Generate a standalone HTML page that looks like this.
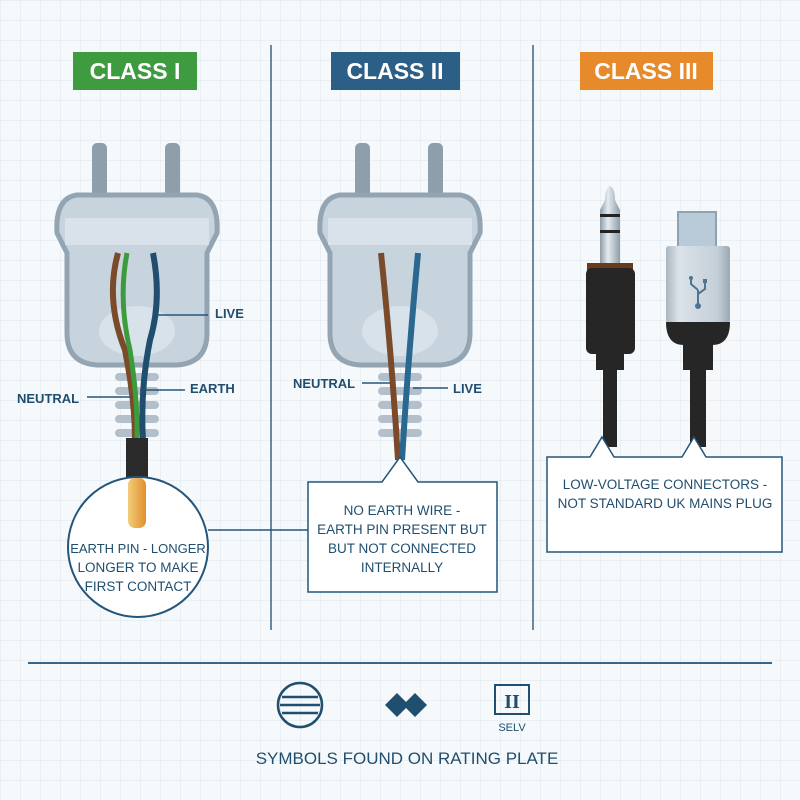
<!DOCTYPE html>
<html><head><meta charset="utf-8"><style>body{margin:0}svg{display:block}</style></head><body>
<svg width="800" height="800" viewBox="0 0 800 800" xmlns="http://www.w3.org/2000/svg" font-family="Liberation Sans, sans-serif">
<defs>
<pattern id="g" width="20" height="20" patternUnits="userSpaceOnUse"><path d="M20 0H0V20" fill="none" stroke="#dde5eb" stroke-width="1"/></pattern>
<linearGradient id="met" x1="0" x2="1"><stop offset="0" stop-color="#8e9ca8"/><stop offset=".4" stop-color="#e4ebf0"/><stop offset="1" stop-color="#8e9ca8"/></linearGradient>
<linearGradient id="usb" x1="0" x2="1"><stop offset="0" stop-color="#a9b6c1"/><stop offset=".2" stop-color="#dce3e9"/><stop offset=".8" stop-color="#c4cfd8"/><stop offset="1" stop-color="#9aa8b4"/></linearGradient>
<linearGradient id="gold" x1="0" x2="1"><stop offset="0" stop-color="#f2cd7a"/><stop offset="1" stop-color="#e0902e"/></linearGradient>
<g id="plug">
<rect x="-45" y="-110" width="15" height="85" rx="5" fill="#8e9eab"/>
<rect x="28" y="-110" width="15" height="85" rx="5" fill="#8e9eab"/>
<path d="M-80 -20 Q-82 -55 -60 -58 L60 -58 Q82 -55 80 -20 L70 0 L70 80 Q70 110 40 112 L-40 112 Q-70 110 -70 80 L-70 0 Z" fill="#c7d4de" stroke="#93a4b2" stroke-width="5"/>
<path d="M-72 -35 L72 -35 L72 -8 L-72 -8 Z" fill="#d9e2ea"/>
<ellipse cx="0" cy="78" rx="38" ry="25" fill="#d8e2ea"/>
<g fill="#b3c0cb"><rect x="-22" y="120" width="44" height="8" rx="4"/><rect x="-22" y="134" width="44" height="8" rx="4"/><rect x="-22" y="148" width="44" height="8" rx="4"/><rect x="-22" y="162" width="44" height="8" rx="4"/><rect x="-22" y="176" width="44" height="8" rx="4"/></g>
</g>
</defs>
<rect width="800" height="800" fill="#f6f9fb"/>
<rect width="800" height="800" fill="url(#g)"/>
<g stroke="#3a6485" stroke-width="1.5"><line x1="271" y1="45" x2="271" y2="630"/><line x1="533" y1="45" x2="533" y2="630"/><line x1="28" y1="663" x2="772" y2="663" stroke-width="2"/></g>
<rect x="73" y="52" width="124" height="38" fill="#3f9b40"/>
<rect x="331" y="52" width="129" height="38" fill="#2c5f86"/>
<rect x="580" y="52" width="133" height="38" fill="#e68a2b"/>
<g fill="#fff" font-weight="bold" font-size="23" text-anchor="middle"><text x="135" y="79">CLASS I</text><text x="395" y="79">CLASS II</text><text x="646" y="79">CLASS III</text></g>

<use href="#plug" x="137" y="253"/>
<path d="M118 253 Q105 300 125 350 Q135 400 135 440" stroke="#7a4a2a" stroke-width="6" fill="none"/>
<path d="M127 253 Q118 300 130 350 Q138 400 137 440" stroke="#3d9a3d" stroke-width="5" fill="none"/>
<path d="M153 253 Q162 300 150 340 Q140 390 143 440" stroke="#1f4e6e" stroke-width="6" fill="none"/>
<rect x="126" y="438" width="22" height="42" fill="#2a2a2a"/>
<circle cx="138" cy="547" r="70" fill="#fff" stroke="#24557a" stroke-width="2"/>
<rect x="128" y="478" width="18" height="50" rx="7" fill="url(#gold)"/>
<line x1="208" y1="530" x2="310" y2="530" stroke="#24557a" stroke-width="1.5"/>

<use href="#plug" x="400" y="253"/>
<path d="M381 253 Q392 360 398 460" stroke="#7a4a2a" stroke-width="6" fill="none"/>
<path d="M418 253 Q408 360 402 460" stroke="#2a6890" stroke-width="6" fill="none"/>
<path d="M308 482 L382 482 L400 457 L418 482 L497 482 L497 592 L308 592 Z" fill="#fff" stroke="#24557a" stroke-width="1.5"/>

<path d="M605 200 Q605 188 610 186 Q615 188 615 200 L620 210 L620 265 L600 265 L600 210 Z" fill="url(#met)"/>
<rect x="600" y="214" width="20" height="3" fill="#222"/><rect x="600" y="230" width="20" height="3" fill="#222"/>
<rect x="587" y="263" width="46" height="8" fill="#6a3a1c"/>
<rect x="586" y="268" width="49" height="86" rx="6" fill="#262626"/>
<rect x="596" y="352" width="28" height="18" fill="#262626"/>
<path d="M603 368 L617 368 L617 447 L603 447 Z" fill="#262626"/>
<rect x="678" y="212" width="38" height="36" fill="#b9cbd8" stroke="#8fa2b0" stroke-width="2"/>
<rect x="666" y="246" width="64" height="77" rx="3" fill="url(#usb)"/>
<g fill="none" stroke="#4f7593" stroke-width="2"><path d="M698 290 L698 304"/><path d="M698 290 L691 284 L691 278"/><path d="M698 294 L705 289 L705 282"/></g>
<circle cx="698" cy="306" r="3" fill="#4f7593"/><circle cx="691" cy="278" r="2" fill="#4f7593"/><rect x="703" y="279" width="4" height="4" fill="#4f7593"/>
<path d="M666 322 L730 322 Q730 345 712 345 L684 345 Q666 345 666 322 Z" fill="#262626"/>
<rect x="683" y="342" width="30" height="28" fill="#262626"/>
<rect x="690" y="368" width="16" height="79" fill="#262626"/>
<path d="M547 457 L590 457 L602 437 L614 457 L682 457 L694 437 L706 457 L782 457 L782 552 L547 552 Z" fill="#fff" stroke="#24557a" stroke-width="1.5"/>

<g stroke="#24557a" stroke-width="1.5"><line x1="158" y1="315" x2="208" y2="315"/><line x1="140" y1="390" x2="185" y2="390"/><line x1="87" y1="397" x2="132" y2="397"/><line x1="362" y1="383" x2="390" y2="383"/><line x1="413" y1="388" x2="448" y2="388"/></g>
<g fill="#1f4e6e" font-size="13" font-weight="bold"><text x="215" y="318">LIVE</text><text x="190" y="393">EARTH</text><text x="17" y="403">NEUTRAL</text><text x="293" y="388">NEUTRAL</text><text x="453" y="393">LIVE</text></g>
<g fill="#1f4e6e" font-size="13.5" text-anchor="middle">
<text x="138" y="553" font-size="13">EARTH PIN - LONGER</text><text x="138" y="572">LONGER TO MAKE</text><text x="138" y="591">FIRST CONTACT</text>
<text x="402" y="515">NO EARTH WIRE -</text><text x="402" y="534">EARTH PIN PRESENT BUT</text><text x="402" y="553">BUT NOT CONNECTED</text><text x="402" y="572">INTERNALLY</text>
<text x="665" y="489">LOW-VOLTAGE CONNECTORS -</text><text x="665" y="508">NOT STANDARD UK MAINS PLUG</text>
</g>
<circle cx="300" cy="705" r="22" fill="none" stroke="#1f4e6e" stroke-width="2.5"/>
<g stroke="#1f4e6e" stroke-width="2.5"><line x1="282" y1="697" x2="318" y2="697"/><line x1="280" y1="705" x2="320" y2="705"/><line x1="282" y1="713" x2="318" y2="713"/></g>
<path d="M385 705 L397 693 L406 702 L415 693 L427 705 L415 717 L406 708 L397 717 Z" fill="#1f4e6e"/>
<rect x="495" y="685" width="34" height="29" fill="none" stroke="#1f4e6e" stroke-width="2"/>
<text x="512" y="708" text-anchor="middle" font-family="Liberation Serif, serif" font-size="20" font-weight="bold" fill="#1f4e6e">II</text>
<text x="512" y="731" text-anchor="middle" font-size="11" fill="#1f4e6e">SELV</text>
<text x="407" y="764" text-anchor="middle" font-size="17" fill="#1f4e6e">SYMBOLS FOUND ON RATING PLATE</text>
</svg>
</body></html>
